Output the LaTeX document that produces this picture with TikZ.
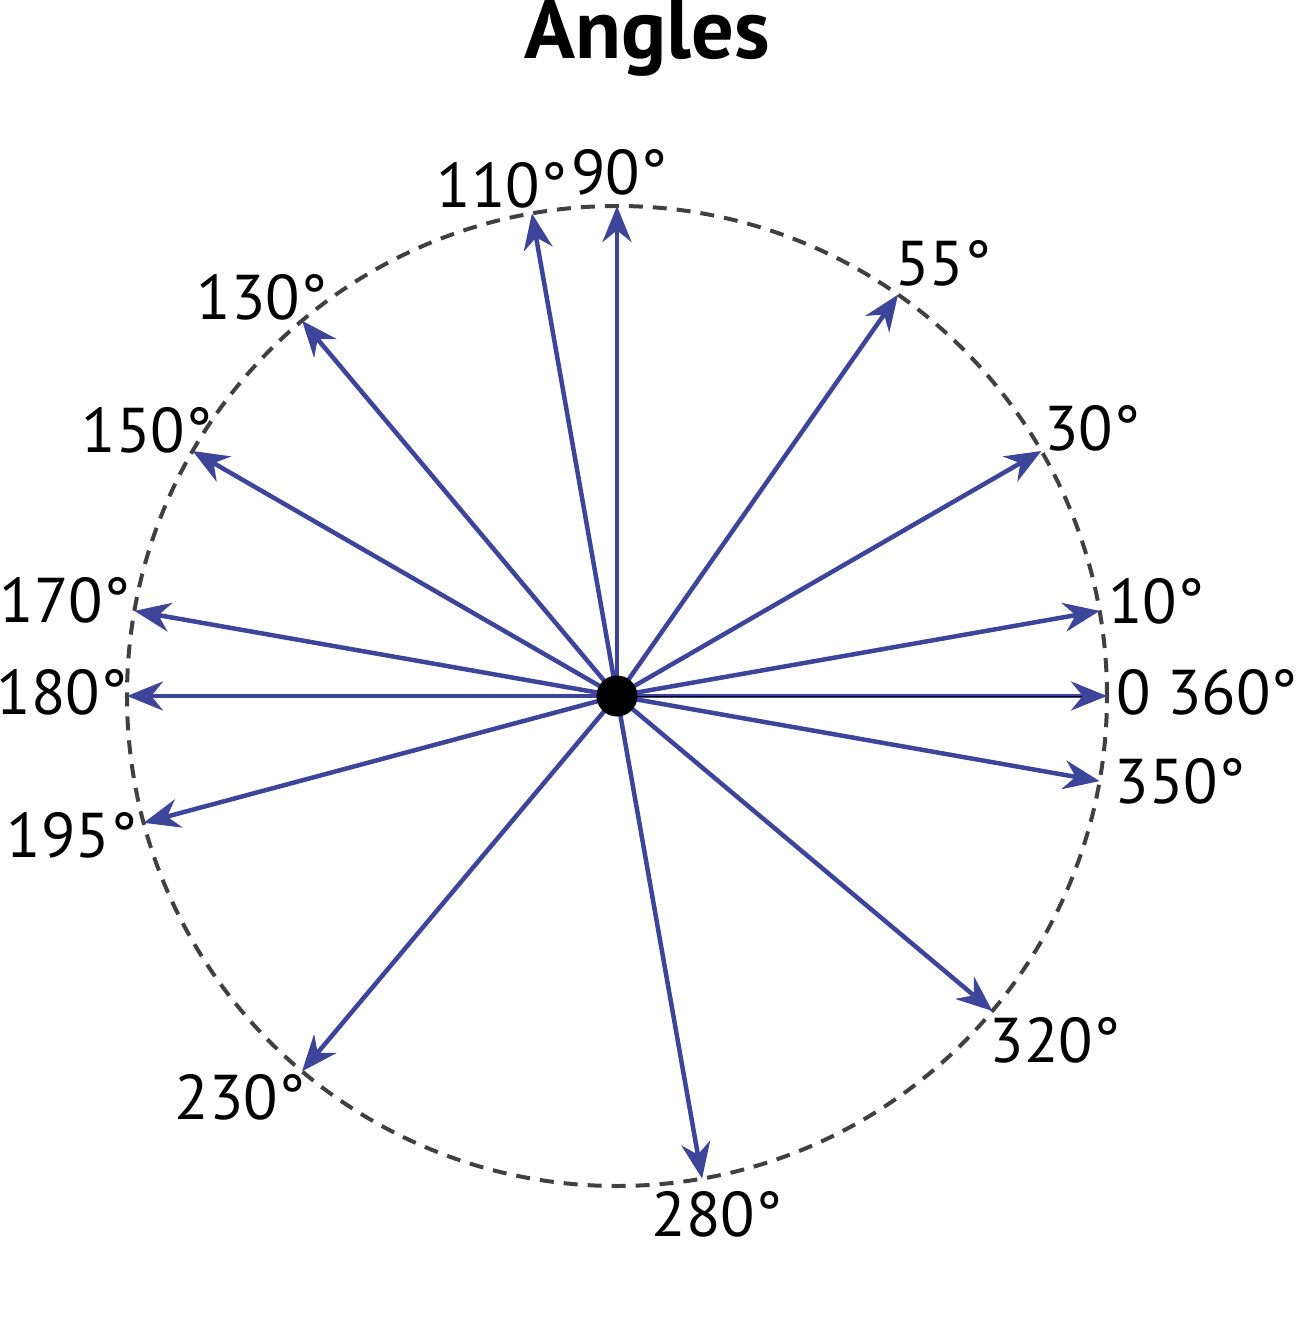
\documentclass[tikz,border=0pt]{standalone}
\usepackage{fontspec}
\setmainfont{PT Sans}
\usetikzlibrary{arrows.meta}

\definecolor{vecblue}{HTML}{3D459B}
\definecolor{rimgray}{HTML}{404040}

\tikzstyle{rim} = [draw=rimgray,line width=0.4mm,dash pattern=on 1.4mm off 1mm]
\tikzstyle{vec} = [draw=vecblue,line width=0.45mm,-{Stealth[length=3.6mm,width=2.9mm]}]
\tikzstyle{deg} = [font=\fontsize{18}{18}\selectfont,inner sep=0pt]
\tikzstyle{hub} = [circle,fill=black,minimum size=4.1mm,inner sep=0pt]

\begin{document}
\begin{tikzpicture}[x=0.1mm,y=0.1mm]
\useasboundingbox (-617,-630) rectangle (683,696);
\node[font=\fontsize{24}{24}\selectfont\bfseries,anchor=base,inner sep=0pt] (title) at (30,637) {Angles};
\coordinate (O) at (0,0);
\path[rim] (O) circle (490);
% drawn angle / label position / label text
\foreach \ang/\lx/\ly/\txt in {90/2/524/90°, 100/-115/511/110°, 55/326/433/55°,
                               130/-355/399/130°, 30/475/268/30°, 150/-470/266/150°,
                               170/-552/96/170°, 10/539/95/10°, 180/-555/4/180°,
                               0/590/4/0 360°, 350/563/-85/350°, 195/-545/-139/195°,
                               320/438/-344/320°, 230/-377/-401/230°, 280/100/-518/280°}{
  \coordinate (t\ang) at (\ang:490);
  \path[vec] (O) -- (t\ang);
  \node[deg] (l\ang) at (\lx,\ly) {\txt};
}
\draw[black,line width=0.08mm,shorten >=2.5mm] (O) -- (t0);
\node[hub] (dot) at (O) {};
\end{tikzpicture}
\end{document}
